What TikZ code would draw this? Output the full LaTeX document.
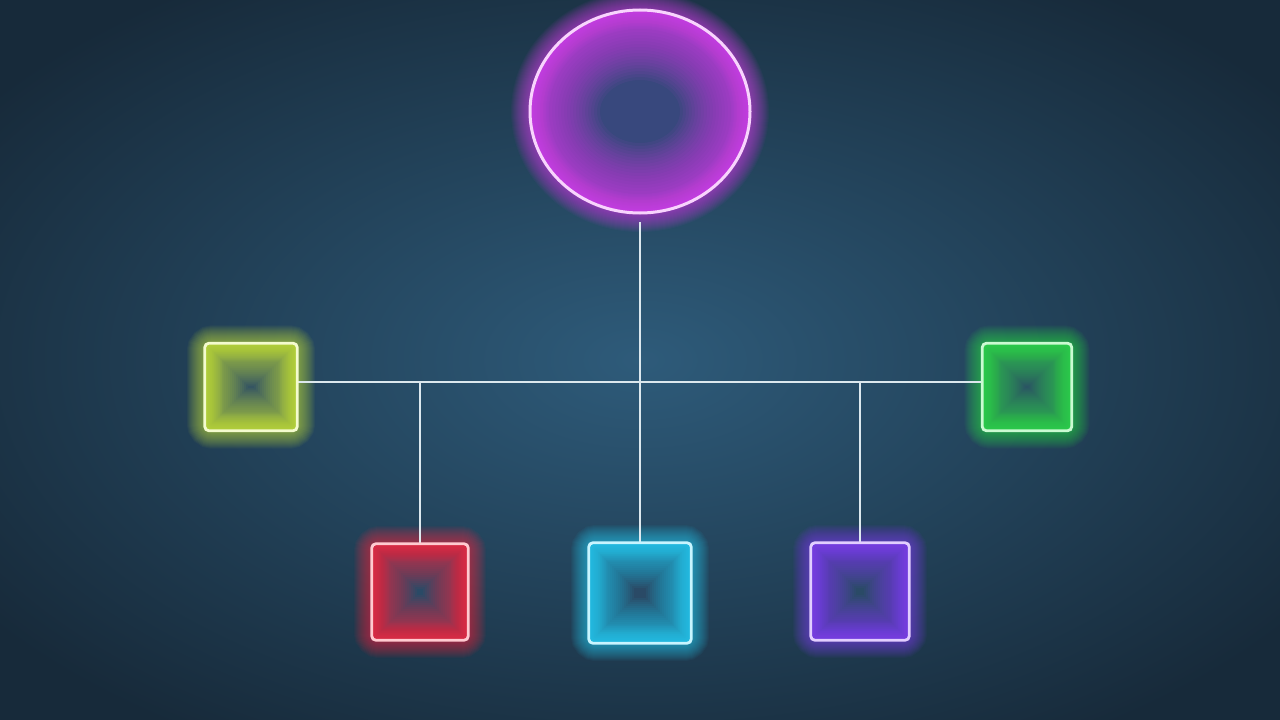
\documentclass[tikz,border=0pt]{standalone}
\usetikzlibrary{shapes.geometric}
\definecolor{bgin}{HTML}{2E5B7A}
\definecolor{bgout}{HTML}{172A3A}
\definecolor{bgc}{HTML}{2A4A66}
\definecolor{yellowc}{HTML}{D4F03A}
\definecolor{greenc}{HTML}{2EEA4A}
\definecolor{redc}{HTML}{FF2A44}
\definecolor{cyanc}{HTML}{22D8FF}
\definecolor{purplec}{HTML}{8A3CFF}
\definecolor{magc}{HTML}{E03CF4}
\definecolor{wirec}{HTML}{DCE8EE}
\tikzset{
  box/.style={draw=none, inner sep=0pt, rectangle},
  wire/.style={draw=wirec, line width=1.6pt},
}
\newcommand\neonsq[2]{%
  \fill[bgc, rounded corners=4pt] (#1.north west) rectangle (#1.south east);
  \begin{scope}
    \clip[rounded corners=4pt] (#1.north west) rectangle (#1.south east);
    \foreach \w in {6,10,...,90}{
      \draw[draw=#2, line width=\w pt, draw opacity=0.052, rounded corners=6pt] (#1.north west) rectangle (#1.south east);
    }%
  \end{scope}
  \foreach \w in {4,6,...,36}{
    \draw[draw=#2, line width=\w pt, draw opacity=0.045, rounded corners=8pt] (#1.north west) rectangle (#1.south east);
  }%
}
\newcommand\neoncore[2]{%
  \draw[draw=#2!25!white, line width=2.8pt, rounded corners=4pt] (#1.north west) rectangle (#1.south east);
}
\begin{document}
\begin{tikzpicture}[x=1pt,y=-1pt]
\useasboundingbox (0,0) rectangle (1280,720);
\fill[inner color=bgin, outer color=bgout] (-160,-90) rectangle (1440,810);

% nodes
\node[ellipse, draw=none, minimum width=220pt, minimum height=203pt] (top) at (640,111.5) {};
\node[box, minimum width=92pt, minimum height=87pt] (yel) at (251,387) {};
\node[box, minimum width=89pt, minimum height=87pt] (grn) at (1027,387) {};
\node[box, minimum width=96pt, minimum height=96pt] (red) at (420,592) {};
\node[box, minimum width=102pt, minimum height=100pt] (cya) at (640,593) {};
\node[box, minimum width=98pt, minimum height=97pt] (pur) at (860,591.5) {};

% circle glow
\fill[bgc!85!purplec] (top.center) ellipse [x radius=110pt, y radius=101.5pt];
\begin{scope}
  \clip (top.center) ellipse [x radius=110pt, y radius=101.5pt];
  \foreach \w in {8,14,...,140}{
    \draw[draw=magc, line width=\w pt, draw opacity=0.055] (top.center) ellipse [x radius=110pt, y radius=101.5pt];
  }
\end{scope}
\foreach \w in {4,6,...,38}{
  \draw[draw=magc, line width=\w pt, draw opacity=0.045] (top.center) ellipse [x radius=110pt, y radius=101.5pt];
}
\neonsq{yel}{yellowc}
\neonsq{grn}{greenc}
\neonsq{red}{redc}
\neonsq{cya}{cyanc}
\neonsq{pur}{purplec}

% connectors
\coordinate (hl) at ([yshift=5pt]yel.east);
\coordinate (hr) at ([yshift=5pt]grn.west);
\coordinate (jc) at (top.south |- hl);
\coordinate (jl) at (red.north |- hl);
\coordinate (jr) at (pur.north |- hl);
\draw[wire, shorten <=9pt] (top.south) -- (jc);
\draw[wire] (hl) -- (hr);
\draw[wire] (jl) -- (red.north);
\draw[wire] (jc) -- (cya.north);
\draw[wire] (jr) -- (pur.north);

% cores
\draw[draw=magc!22!white, line width=3pt] (top.center) ellipse [x radius=110pt, y radius=101.5pt];
\neoncore{yel}{yellowc}
\neoncore{grn}{greenc}
\neoncore{red}{redc}
\neoncore{cya}{cyanc}
\neoncore{pur}{purplec}
\end{tikzpicture}
\end{document}
